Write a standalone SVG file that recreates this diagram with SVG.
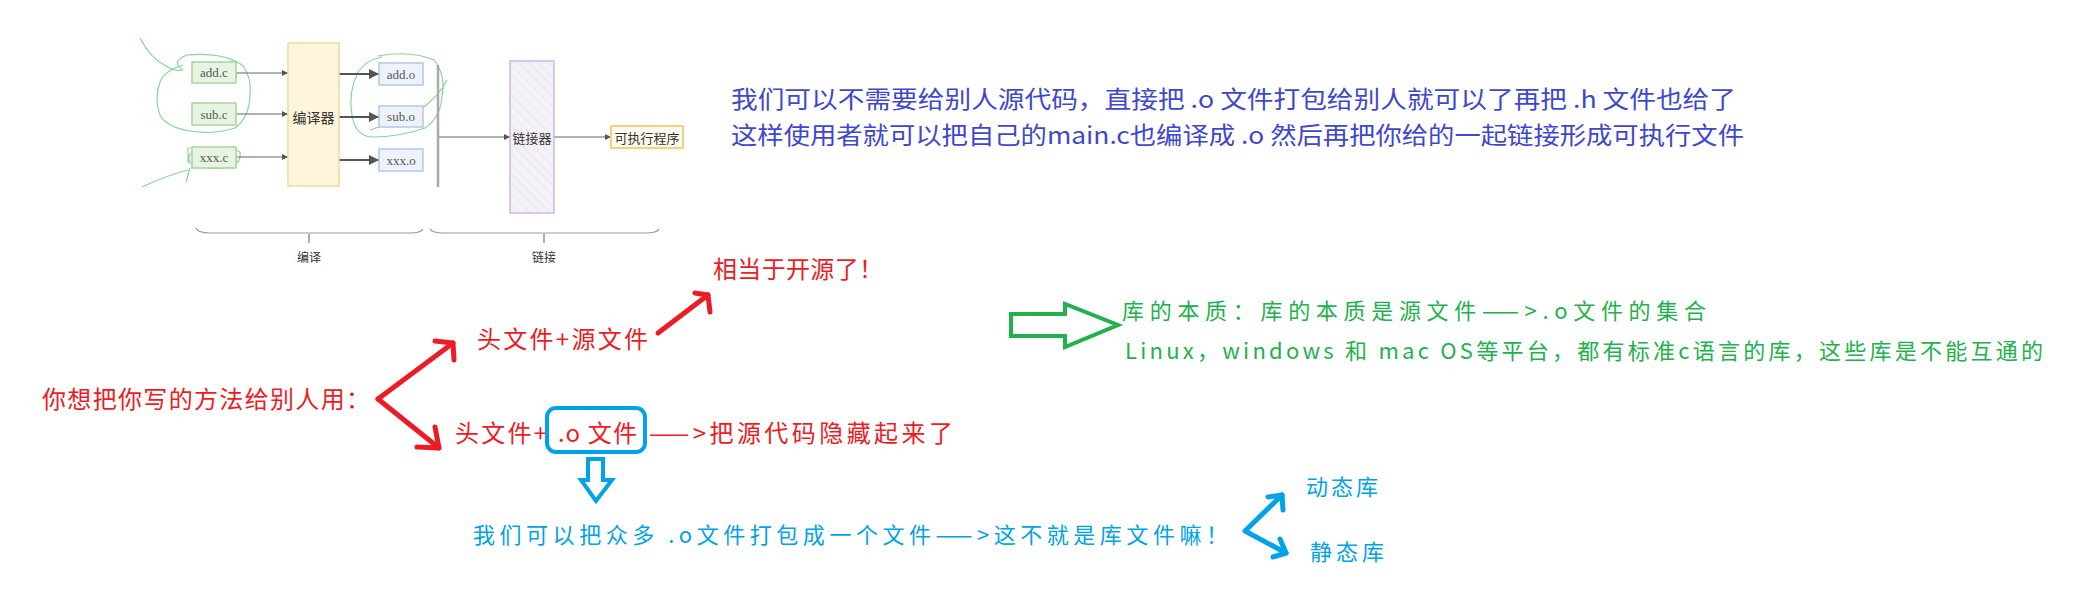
<svg xmlns="http://www.w3.org/2000/svg" width="2091" height="590" viewBox="0 0 2091 590">
<defs>
<style>
.hw { font-family: "Noto Sans CJK SC", sans-serif; dominant-baseline: central; }
.red { fill: #ed1c24; }
.ind { fill: #3f48cc; }
.cyan { fill: #00a2e8; }
.grn { fill: #22b14c; }
.src { fill: #e8f4e2; stroke: #a9d49a; stroke-width: 1.5; }
.obj { fill: #eef3fb; stroke: #b3c8e6; stroke-width: 1.5; }
.lbl { font-family: "Liberation Serif", serif; font-size: 13px; fill: #555; text-anchor: middle; dominant-baseline: central; }
.cn { font-family: "Noto Sans CJK SC", sans-serif; fill: #333; text-anchor: middle; dominant-baseline: central; }
.edge { stroke: #666; stroke-width: 1.2; fill: none; marker-end: url(#ah); }
.edge2 { stroke: #555; stroke-width: 2; fill: none; marker-end: url(#ah); }
.scrib { stroke: #86d69a; stroke-width: 1.2; fill: none; }
.pen { fill: none; stroke-linecap: round; stroke-linejoin: round; }
.brace { stroke: #9a9a9a; stroke-width: 1.2; fill: none; }
</style>
<marker id="ah" viewBox="0 0 6 6" refX="6" refY="3" markerWidth="5" markerHeight="5" orient="auto"><path d="M0,0 L6,3 L0,6 z" fill="#555"/></marker>
<pattern id="hatch" width="7" height="7" patternUnits="userSpaceOnUse" patternTransform="rotate(-45)"><rect width="7" height="7" fill="#f5f1f8"/><line x1="0" y1="0" x2="0" y2="7" stroke="#e2d9ec" stroke-width="1"/></pattern>
</defs>
<rect width="2091" height="590" fill="#ffffff"/>

<g id="scribbles">
<path class="scrib" d="M140,38 Q150,58 166,66 Q176,72 182,70 M183,70 Q170,62 187,55 Q225,52 243,66 Q252,78 250,96 Q249,118 235,128 Q212,135 190,131 Q166,127 160,115 Q154,100 160,82 Q165,70 183,65"/>
<path class="scrib" d="M232,72 Q238,73 236,78 M232,113 Q236,116 232,118"/>
<path class="scrib" d="M188,147 L188,163 M190,148 Q230,146 240,152 Q242,165 225,168 Q200,169 190,163 Q186,155 195,150 M190,168 L186,182 M188,170 Q165,176 142,187 M230,152 Q236,156 232,160"/>
<path class="scrib" d="M378,56 Q410,50 434,60 Q446,75 442,97 Q440,118 425,128 Q400,137 372,137 Q355,136 352,115 Q348,92 358,72 Q366,60 382,57 M370,130 Q395,122 420,110 Q440,95 447,80"/>
</g>

<g id="connectors">
<line class="edge" x1="236" y1="73" x2="288" y2="73"/>
<line class="edge" x1="236" y1="114" x2="288" y2="114"/>
<line class="edge" x1="236" y1="157" x2="288" y2="157"/>
<line class="edge2" x1="339" y1="74" x2="379" y2="74"/>
<line class="edge2" x1="339" y1="117" x2="379" y2="117"/>
<line class="edge2" x1="339" y1="160" x2="379" y2="160"/>
<line x1="438" y1="65" x2="438" y2="187" stroke="#aaa" stroke-width="2.5"/>
<line class="edge" x1="439" y1="137" x2="510" y2="137"/>
<line class="edge" x1="554" y1="137" x2="611" y2="137"/>
<path class="brace" d="M196,228 Q198,233 210,233 L410,233 Q421,233 423,229"/>
<line x1="309" y1="234" x2="309" y2="243" stroke="#777" stroke-width="1.2"/>
<path class="brace" d="M430,229 Q432,233 444,233 L646,233 Q657,233 659,229"/>
<line x1="544" y1="234" x2="544" y2="243" stroke="#777" stroke-width="1.2"/>
</g>

<g id="node-add-c"><rect class="src" x="192" y="62" width="44" height="21"/><text class="lbl" x="214" y="72.5">add.c</text></g>
<g id="node-sub-c"><rect class="src" x="192" y="103" width="44" height="22"/><text class="lbl" x="214" y="114">sub.c</text></g>
<g id="node-xxx-c"><rect class="src" x="192" y="147" width="44" height="21"/><text class="lbl" x="214" y="157.5">xxx.c</text></g>
<g id="node-compiler"><rect x="288" y="43" width="51" height="143" fill="#fdf5dc" stroke="#f0d99c" stroke-width="1.5"/><text class="cn" x="313.5" y="117" font-size="14">编译器</text></g>
<g id="node-add-o"><rect class="obj" x="379" y="63" width="44" height="22"/><text class="lbl" x="401" y="74">add.o</text></g>
<g id="node-sub-o"><rect class="obj" x="379" y="106" width="44" height="21"/><text class="lbl" x="401" y="116.5">sub.o</text></g>
<g id="node-xxx-o"><rect class="obj" x="379" y="149" width="44" height="22"/><text class="lbl" x="401" y="160">xxx.o</text></g>
<g id="node-linker"><rect x="510" y="61" width="44" height="152" fill="url(#hatch)" stroke="#cbb8dc" stroke-width="1.5"/><text class="cn" x="532" y="137" font-size="13">链接器</text></g>
<g id="node-exe"><rect x="611" y="126" width="72" height="22" fill="#fffaf0" stroke="#f2d27c" stroke-width="2"/><text class="cn" x="647" y="137" font-size="13">可执行程序</text></g>
<g id="label-compile"><text class="cn" x="309" y="256" font-size="12" fill="#444">编译</text></g>
<g id="label-link"><text class="cn" x="544" y="256" font-size="12" fill="#444">链接</text></g>

<g id="note-blue">
<text class="hw ind" x="731" y="97" font-size="24" textLength="1005" lengthAdjust="spacingAndGlyphs">我们可以不需要给别人源代码，直接把 .o 文件打包给别人就可以了再把 .h 文件也给了</text>
<text class="hw ind" x="731" y="133" font-size="24" textLength="1013" lengthAdjust="spacingAndGlyphs">这样使用者就可以把自己的main.c也编译成 .o 然后再把你给的一起链接形成可执行文件</text>
</g>

<g id="red-arrows">
<polyline class="pen" points="378,399 453,343" stroke="#ed1c24" stroke-width="5"/>
<polyline class="pen" points="435,341 453,343 454,360" stroke="#ed1c24" stroke-width="5"/>
<polyline class="pen" points="378,399 439,448" stroke="#ed1c24" stroke-width="5"/>
<polyline class="pen" points="417,447 439,448 435,427" stroke="#ed1c24" stroke-width="5"/>
<polyline class="pen" points="658,333 708,295" stroke="#ed1c24" stroke-width="5"/>
<polyline class="pen" points="695,293 708,295 710,312" stroke="#ed1c24" stroke-width="5"/>
</g>

<g id="node-want"><text class="hw red" x="42" y="397" font-size="24" textLength="328">你想把你写的方法给别人用：</text></g>
<g id="node-header-src"><text class="hw red" x="477" y="337" font-size="24" textLength="171">头文件+源文件</text></g>
<g id="node-open"><text class="hw red" x="713" y="267" font-size="24" textLength="170">相当于开源了！</text></g>
<g id="node-header-obj">
<text class="hw red" x="455" y="431" font-size="24" textLength="92">头文件+</text>
<text class="hw red" x="558" y="431" font-size="24" textLength="79">.o 文件</text>
<rect x="547" y="408" width="98" height="44" rx="9" fill="none" stroke="#00a2e8" stroke-width="4"/>
</g>
<g id="node-hide"><text class="hw red" x="649" y="431" font-size="24" textLength="304">——&gt;把源代码隐藏起来了</text></g>

<g id="blue-part">
<path d="M588,459 L603,459 L603,480 L612,480 L596,501 L581,480 L588,480 Z" fill="none" stroke="#00a2e8" stroke-width="4" stroke-linejoin="miter"/>
<text class="hw cyan" x="473" y="533" font-size="22" textLength="755">我们可以把众多 .o文件打包成一个文件——&gt;这不就是库文件嘛！</text>
<polyline class="pen" points="1282,495 1245,531 1286,553" stroke="#00a2e8" stroke-width="5"/>
<polyline class="pen" points="1268,497 1282,495 1283,510" stroke="#00a2e8" stroke-width="5"/>
<polyline class="pen" points="1280,539 1286,553 1273,557" stroke="#00a2e8" stroke-width="5"/>
</g>
<g id="node-dynamic"><text class="hw cyan" x="1306" y="485" font-size="22" textLength="72">动态库</text></g>
<g id="node-static"><text class="hw cyan" x="1310" y="550" font-size="22" textLength="74">静态库</text></g>

<g id="green-part">
<path d="M1011,314 L1065,314 L1065,304 L1118,325 L1065,347 L1065,336 L1011,336 Z" fill="none" stroke="#22b14c" stroke-width="4"/>
<text class="hw grn" x="1122" y="309" font-size="22" textLength="584">库的本质：库的本质是源文件——&gt;.o文件的集合</text>
<text class="hw grn" x="1125" y="349" font-size="22" textLength="918">Linux，windows 和 mac OS等平台，都有标准c语言的库，这些库是不能互通的</text>
</g>
</svg>
